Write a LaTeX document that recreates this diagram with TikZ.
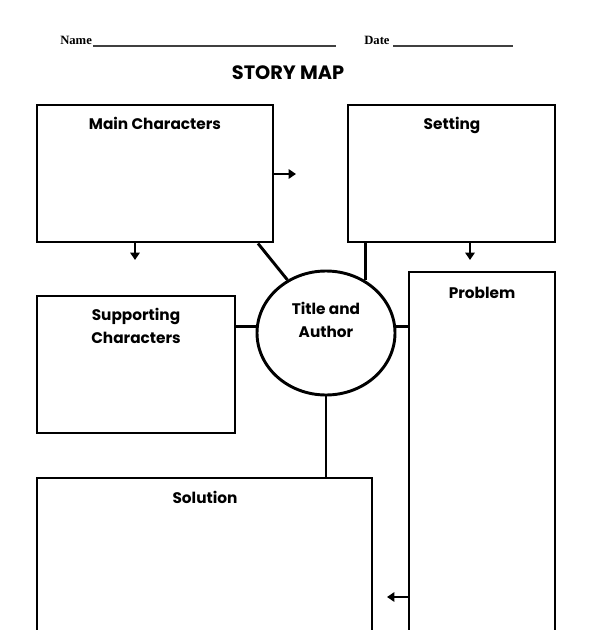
\documentclass[tikz,border=0pt]{standalone}
\usepackage{fontspec}
\setmainfont{Liberation Serif}
\newfontfamily\comic{Poppins}
\usetikzlibrary{shapes.geometric,arrows.meta}
\begin{document}
\begin{tikzpicture}[x=0.75pt,y=-0.75pt,
  box/.style={draw,line width=2.2pt,rectangle,inner sep=0pt},
  lbl/.style={font=\comic\bfseries\fontsize{11.5}{17}\selectfont,align=center,anchor=base,inner sep=0pt},
  conn/.style={line width=2.2pt},
  arr/.style={conn,-{Triangle[length=5.5pt,width=7pt]}}]
\clip (0,0) rectangle (598,630);
\fill[white] (0,0) rectangle (598,630);
% header
\node[anchor=base west,inner sep=0pt,font=\bfseries\fontsize{9.5}{11}\selectfont] (name) at (60,45) {Name};
\node[anchor=base west,inner sep=0pt,font=\bfseries\fontsize{9.5}{11}\selectfont] (date) at (364,45) {Date};
\draw[line width=0.8pt,black!75] (93,46) -- (336,46);
\draw[line width=0.8pt,black!75] (393,46) -- (513,46);
\node[anchor=base,inner sep=0pt,font=\comic\bfseries\fontsize{14.5}{17}\selectfont] (title) at (288,80) {STORY MAP};
% boxes
\node[box,minimum width=177pt,minimum height=102.75pt] (main) at (155,173.5) {};
\node[box,minimum width=155.25pt,minimum height=102.75pt] (setting) at (451.5,173.5) {};
\node[box,minimum width=109.5pt,minimum height=321pt] (problem) at (482,486) {};
\node[box,minimum width=148.5pt,minimum height=102.75pt] (supp) at (136,364.5) {};
\node[box,minimum width=251.25pt,minimum height=166.5pt] (solution) at (204.5,589) {};
\node[draw,ellipse,line width=2.2pt,minimum width=103.5pt,minimum height=93pt,inner sep=0pt] (circ) at (326,333) {};
% labels
\node[lbl] (lmain) at (155,130) {Main Characters};
\node[lbl] (lset) at (452,130) {Setting};
\node[lbl] (lprob) at (482,298) {Problem};
\node[lbl] (lsupp) at (136,343) {Supporting\\Characters};
\node[lbl] (lcirc) at (326,337) {Title and\\Author};
\node[lbl] (lsol) at (205,503) {Solution};
% arrows
\coordinate (a1) at (296,174);
\coordinate (a2) at (135,260);
\coordinate (a3) at (470,260);
\coordinate (a4) at (387,597);
\coordinate (d1) at (258,242);
\draw[arr] (main.east |- a1) -- (a1);
\draw[arr] (main.south -| a2) -- (a2);
\draw[arr] (setting.south -| a3) -- (a3);
\draw[arr] (problem.west |- a4) -- (a4);
% connectors
\draw[conn] (main.south -| d1) -- (circ.126);
\draw[conn] (circ.53.5) -- (circ.53.5 |- setting.south);
\draw[conn] (circ.175) -- (circ.175 -| supp.east);
\draw[conn] (circ.5) -- (circ.5 -| problem.west);
\draw[conn] (circ.south) -- (circ.south |- solution.north);
\end{tikzpicture}
\end{document}
